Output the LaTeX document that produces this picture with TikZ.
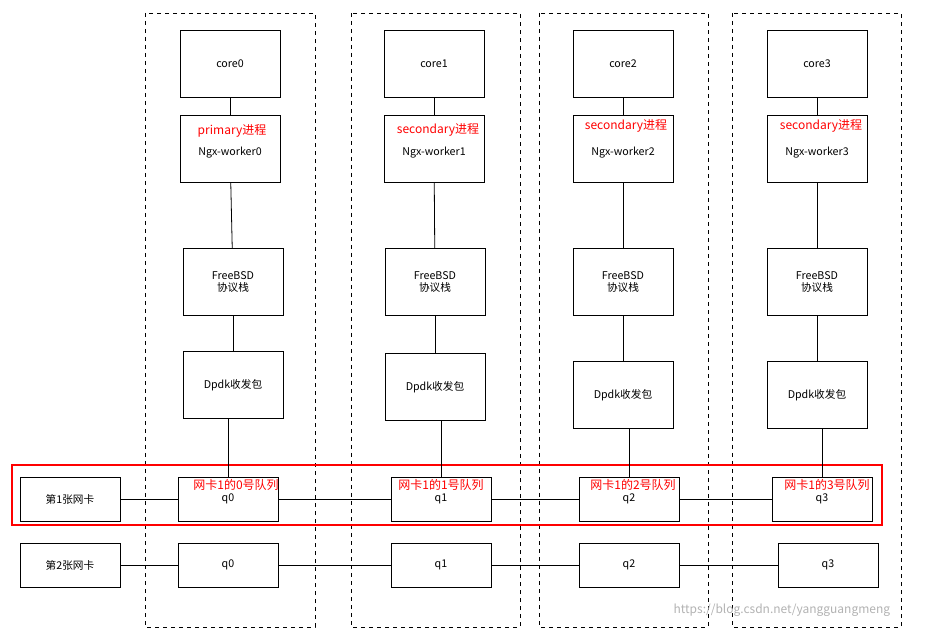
\documentclass[tikz,border=0pt]{standalone}
\usepackage{fontspec}
\setmainfont{Noto Sans CJK SC}
\begin{document}
\begin{tikzpicture}[x=0.75pt,y=-0.75pt,semithick,
box/.style={draw, minimum width=75pt, minimum height=50pt, inner sep=0pt, font=\footnotesize, align=center},
qbox/.style={draw, minimum width=75pt, minimum height=33pt, inner sep=0pt, font=\footnotesize},
col/.style={draw, dashed, thin},
lab/.style={text=red, font=\small}]
\useasboundingbox (0,0) rectangle (932,641);
% dashed columns
\foreach \a/\b in {145/315, 351/520, 539/708, 732/901}
  \draw[col] (\a,13) rectangle (\b,627);
% red frame
\draw[red, thick] (12,465) rectangle (882,525);
% nics
\node[qbox] (nic1) at (70,499) {第1张网卡};
\node[qbox] (nic2) at (70,565) {第2张网卡};
% per column boxes
\foreach \i/\x/\fx/\dx/\dy/\qx/\qy/\role in {0/230/233/233/385/228/228/primary, 1/434/435/435/387/441/441/secondary, 2/623/623/623/395/629/629/secondary, 3/817/817/817/395/822/828/secondary}{
  \node[box] (core\i) at (\x,64) {core\i};
  \node[box] (ngx\i) at (\x,149) {\\[2pt]Ngx-worker\i};
  \node[box] (bsd\i) at (\fx,282) {FreeBSD\\协议栈};
  \node[box] (dpdk\i) at (\dx,\dy) {Dpdk收发包};
  \node[qbox] (qa\i) at (\qx,499) {q\i};
  \node[qbox] (qb\i) at (\qy,565) {q\i};
  \draw (core\i) -- (ngx\i);
  \draw (ngx\i) -- (bsd\i);
  \draw (bsd\i) -- (dpdk\i);
  \draw (dpdk\i.south -| qa\i) ++(0,0) coordinate (d\i);
  \draw (d\i) -- (qa\i);
}
% red labels
\node[lab] at (232,131) {primary进程};
\node[lab] at (438,130) {secondary进程};
\node[lab] at (626,126) {secondary进程};
\node[lab] at (821,126) {secondary进程};
\foreach \i/\x in {0/236, 1/441, 2/633, 3/827}
  \node[lab] at (\x,485) {网卡1的\i 号队列};
% rows
\draw (nic1) -- (qa0) -- (qa1) -- (qa2) -- (qa3);
\draw (nic2) -- (qb0) -- (qb1) -- (qb2) -- (qb3);
% watermark
\node[text=gray!60, font=\small, anchor=east] at (895,610) {https://blog.csdn.net/yangguangmeng};
\end{tikzpicture}
\end{document}
